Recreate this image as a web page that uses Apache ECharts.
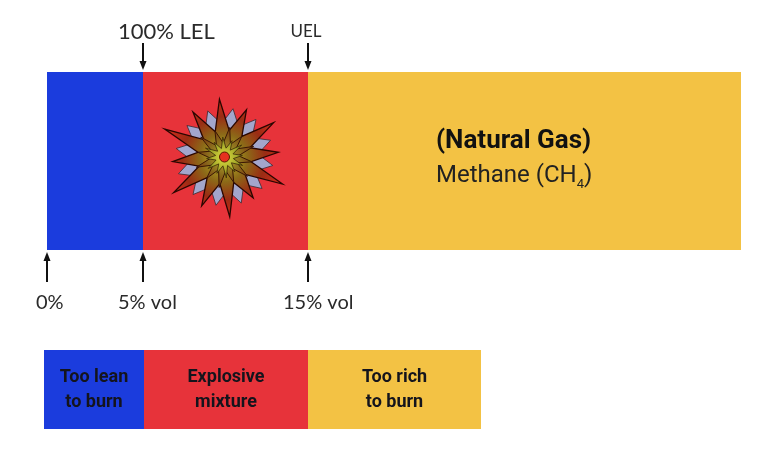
<!DOCTYPE html>
<html><head><meta charset="utf-8">
<script src="https://cdn.jsdelivr.net/npm/echarts@6/dist/echarts.min.js"></script>
<style>html,body{margin:0;padding:0;background:#fff}#c{width:768px;height:455px}</style>
</head><body><div id="c"></div>
<script>
// ---- data ----
const zoneNames = ['Too lean to burn', 'Explosive mixture', 'Too rich to burn'];
const zoneLabels = ['Too lean\nto burn', 'Explosive\nmixture', 'Too rich\nto burn'];
const zoneColors = ['#1b3cdd', '#e7333a', '#f3c244'];
const scaleWidths = [96, 165, 433];      // schematic lengths of the segments on the main bar
const legendWidths = [100, 164, 173];    // schematic lengths of the segments on the key bar
const boundaryLabels = ['0%', '5% vol', '15% vol'];
const limitLabels = ['100% LEL', 'UEL']; // at the 2nd and 3rd boundary
const gasTitle = '(Natural Gas)';
const gasName = 'Methane (CH';
const gasSub = '4';

const sum = a => a.reduce((s, v) => s + v, 0);
const chart = echarts.init(document.getElementById('c'), null, {renderer: 'canvas'});

const series = [];
zoneNames.forEach((n, i) => {
  const s = {
    name: n, type: 'bar', stack: 'main', xAxisIndex: 0, yAxisIndex: 0,
    barWidth: '100%', data: [scaleWidths[i]], itemStyle: {color: zoneColors[i]},
    silent: true, animation: false
  };
  if (i === 2) {
    s.label = {
      show: true, position: [128, 85], align: 'left', verticalAlign: 'middle',
      formatter: '{b|' + gasTitle + '}\n{r|' + gasName + '}{s|' + gasSub + '}{r|)}',
      rich: {
        b: {fontFamily: 'Roboto', fontWeight: 'bold', fontSize: 26, color: '#111', lineHeight: 37},
        r: {fontFamily: 'Roboto', fontSize: 24, color: '#222', lineHeight: 32},
        s: {fontFamily: 'Roboto', fontSize: 13, color: '#222', lineHeight: 29, verticalAlign: 'bottom'}
      }
    };
  }
  series.push(s);
  series.push({
    name: n + ' key', type: 'bar', stack: 'key', xAxisIndex: 1, yAxisIndex: 1,
    barWidth: '100%', data: [legendWidths[i]], itemStyle: {color: zoneColors[i]},
    silent: true, animation: false,
    label: {
      show: true, position: 'inside', formatter: zoneLabels[i],
      fontFamily: 'Roboto', fontWeight: 'bold', fontSize: 18,
      lineHeight: 25, color: '#14141c'
    }
  });
});

chart.setOption({
  backgroundColor: '#fff',
  animation: false,
  grid: [
    {left: 47, top: 72, width: 694, height: 178},
    {left: 44, top: 350, width: 437, height: 79}
  ],
  xAxis: [
    {type: 'value', gridIndex: 0, min: 0, max: sum(scaleWidths), show: false},
    {type: 'value', gridIndex: 1, min: 0, max: sum(legendWidths), show: false}
  ],
  yAxis: [
    {type: 'category', gridIndex: 0, data: ['scale'], show: false},
    {type: 'category', gridIndex: 1, data: ['key'], show: false}
  ],
  series: series
});

// ---- annotations placed from the axis scale ----
const cum = [0];
for (let i = 0; i < scaleWidths.length - 1; i++) cum.push(cum[i] + scaleWidths[i]);
const bx = cum.map(v => chart.convertToPixel({xAxisIndex: 0}, v));

const g = [];
function arrow(x, yTail, yHead) {
  const dir = yHead > yTail ? 1 : -1;
  g.push({type: 'line', silent: true, z: 100, shape: {x1: x, y1: yTail, x2: x, y2: yHead - dir * 6},
          style: {stroke: '#111', lineWidth: 2}});
  g.push({type: 'polygon', silent: true, z: 100,
          shape: {points: [[x - 3.5, yHead - dir * 9], [x + 3.5, yHead - dir * 9], [x, yHead]]},
          style: {fill: '#111'}});
}
function text(str, x, y, size, align) {
  g.push({type: 'text', silent: true, z: 100, x: x, y: y,
          style: {text: str, fontFamily: 'Lato', fontSize: size, fill: '#2a2a2a',
                  align: align, verticalAlign: 'middle'}});
}
// top limits
arrow(bx[1], 43, 70);
arrow(bx[2], 43, 70);
text(limitLabels[0], bx[1] - 25, 32, 22, 'left');
text(limitLabels[1], bx[2] - 2, 32, 17, 'center');
// bottom boundaries
const offs = [-11, -25, -25];
bx.forEach((x, i) => {
  arrow(x, 282, 252);
  text(boundaryLabels[i], x + offs[i], 303, 20, 'left');
});

// starburst in explosive zone
const cx = chart.convertToPixel({xAxisIndex: 0}, cum[1] + scaleWidths[1] / 2) - 1;
const cy = 157;
const a0 = -95 * Math.PI / 180;
const step = Math.PI / 6;
const tipR = [58, 52, 60, 54, 64, 50, 60, 54, 62, 52, 66, 55];
// grey diamonds
for (let i = 0; i < 12; i++) {
  const a = a0 + step / 2 + i * step;
  const p = (r, da) => [cx + r * Math.cos(a + da), cy + r * Math.sin(a + da)];
  g.push({type: 'polygon', silent: true, z: 100,
          shape: {points: [p(22, 0), p(36, 0.2), p(49, 0), p(36, -0.2)]},
          style: {fill: '#a3a6cc', stroke: '#3a2a30', lineWidth: 0.8}});
}
function star(tips, valley, rot) {
  const pts = [];
  for (let i = 0; i < 12; i++) {
    const a = a0 + rot + i * step;
    pts.push([cx + tips[i] * Math.cos(a), cy + tips[i] * Math.sin(a)]);
    const b = a + step / 2;
    pts.push([cx + valley * Math.cos(b), cy + valley * Math.sin(b)]);
  }
  return pts;
}
g.push({type: 'polygon', silent: true, z: 101, shape: {points: star(tipR, 27, 0)},
        style: {fill: {type: 'radial', x: 0.5, y: 0.5, r: 0.5, colorStops: [
          {offset: 0, color: '#c8c42a'}, {offset: 0.4, color: '#8c6a18'},
          {offset: 0.7, color: '#9a2c14'}, {offset: 1, color: '#d02a1a'}]},
          stroke: '#2a0600', lineWidth: 1.3}});
g.push({type: 'polygon', silent: true, z: 102,
        shape: {points: star([30, 27, 31, 28, 30, 27, 31, 28, 30, 27, 31, 28], 14, step / 2)},
        style: {fill: {type: 'radial', x: 0.5, y: 0.5, r: 0.5, colorStops: [
          {offset: 0, color: '#b8b830'}, {offset: 0.6, color: '#8a6a1c'}, {offset: 1, color: '#7a3a10'}]},
          stroke: '#3a1604', lineWidth: 1}});
g.push({type: 'polygon', silent: true, z: 103,
        shape: {points: star([20, 18, 21, 18, 20, 18, 21, 18, 20, 18, 21, 18], 9, 0)},
        style: {fill: {type: 'radial', x: 0.5, y: 0.5, r: 0.5, colorStops: [
          {offset: 0, color: '#e0e040'}, {offset: 1, color: '#8a9020'}]},
          stroke: '#3a2a06', lineWidth: 0.8}});
g.push({type: 'circle', silent: true, z: 104, shape: {cx: cx, cy: cy, r: 5},
        style: {fill: '#e6301f', stroke: '#5a1a00', lineWidth: 1}});

chart.setOption({graphic: {elements: g}});
</script>
</body></html>
